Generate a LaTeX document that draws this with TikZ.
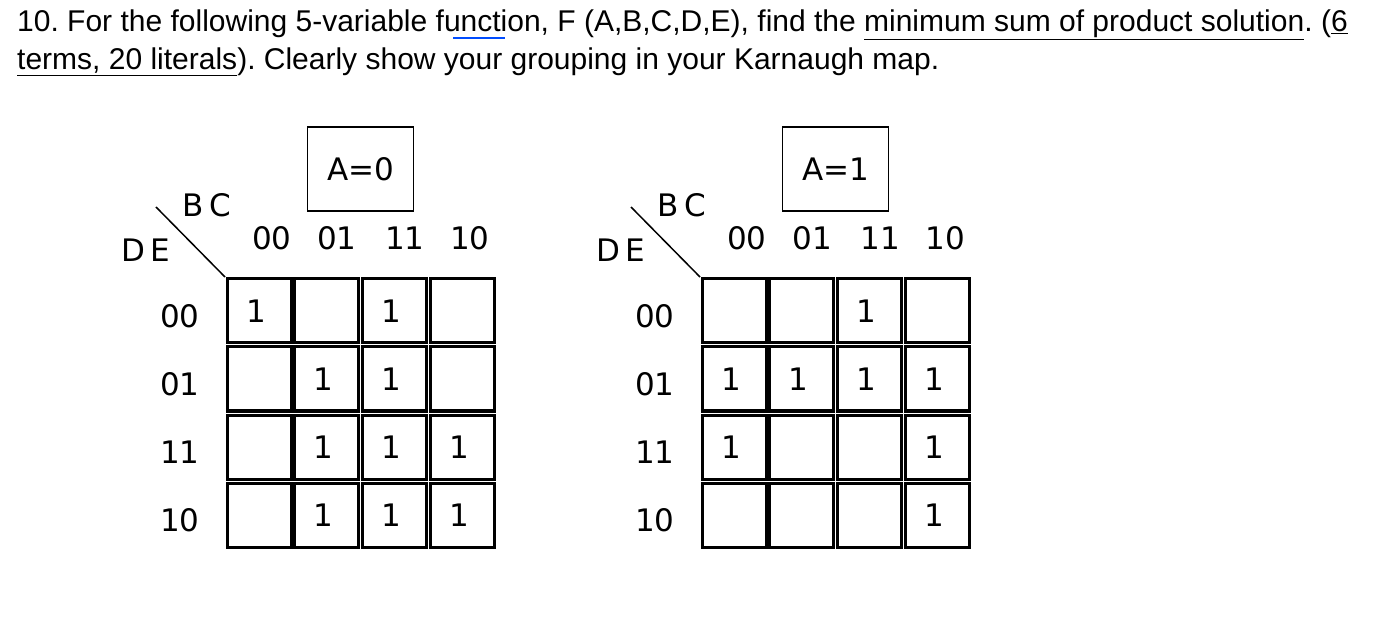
\documentclass[tikz,border=0pt]{standalone}
\usepackage{fontspec}
\setmainfont{Liberation Sans}
\newfontfamily\kfont{DejaVu Sans}
\begin{document}
\frenchspacing
\begin{tikzpicture}[x=1pt,y=-1pt,
  cellbox/.style={draw,line width=3pt},
  klab/.style={font=\kfont\fontsize{31}{35}\selectfont,inner sep=0pt},
  ttl/.style={font=\fontsize{30}{34}\selectfont,inner sep=0pt,anchor=base west}]
\useasboundingbox (0,0) rectangle (1385,628);
\node[ttl] (t1) at (17,32) {10. For the following 5-variable function, F (A,B,C,D,E), find the \underline{minimum sum of product solution}. (\underline{6}};
\node[ttl] (t2) at (17,70) {\underline{terms, 20 literals}). Clearly show your grouping in your Karnaugh map.};
\coordinate (sq1) at (453,38);
\coordinate (sq2) at (505,38);
\draw[blue!70!cyan,line width=1.5pt] (sq1) -- (sq2);
\foreach \m/\ox/\lab/\vals in {L/0/A=0/{1,0,1,0,0,1,1,0,0,1,1,1,0,1,1,1}, R/475/A=1/{0,0,1,0,1,1,1,1,1,0,0,1,0,0,0,1}}{
  \begin{scope}[xshift=\ox]
  \node[draw,line width=1.5pt,minimum width=106pt,minimum height=84pt,klab] (box\m) at (360.5,169) {\lab};
  \node[klab] (bc\m) at (207,205) {B\,C};
  \node[klab] (de\m) at (146,250) {D\,E};
  \coordinate (d1\m) at (156,207);
  \coordinate (d2\m) at (225,277);
  \draw[line width=1.5pt] (d1\m) -- (d2\m);
  \foreach \h [count=\i from 0] in {00,01,11,10}{
    \node[klab] (ch\m\i) at ({272+\i*65+(\i>1?3:0)},238) {\h};
    \node[klab] (rh\m\i) at (180,{316+\i*68}) {\h};
  }
  \foreach \v [count=\k from 0] in \vals {
    \pgfmathtruncatemacro{\r}{int(\k/4)}
    \pgfmathtruncatemacro{\c}{mod(\k,4)}
    \node[cellbox,minimum width=64pt,minimum height=64pt] (c\m\k) at ({259+\c*67.8},{311+\r*68}) {};
    \ifnum\v=1 \node[klab] (v\m\k) at ([xshift=-3pt]c\m\k.center) {1};\fi
  }
  \end{scope}
}
\end{tikzpicture}
\end{document}
